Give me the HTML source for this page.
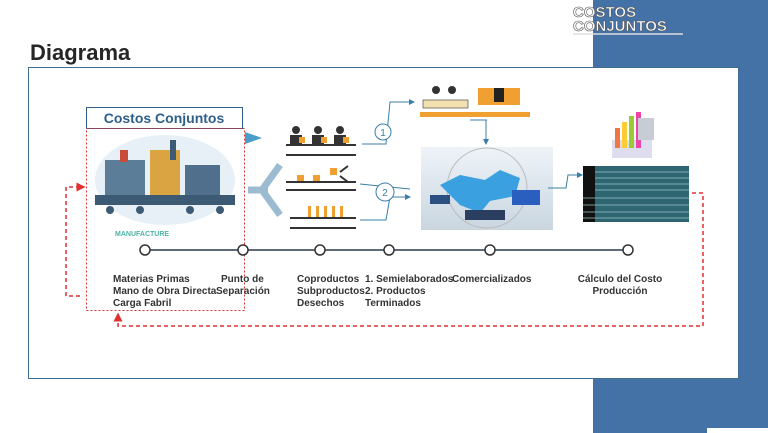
<!DOCTYPE html>
<html><head><style>
body{margin:0;width:768px;height:433px;overflow:hidden;background:#fff;font-family:"Liberation Sans",sans-serif;}
svg{display:block}
</style></head><body>
<svg width="768" height="433" viewBox="0 0 768 433" xmlns="http://www.w3.org/2000/svg">
<defs>
<marker id="ab" markerWidth="6" markerHeight="6" refX="5" refY="3" orient="auto"><path d="M0,0 L6,3 L0,6z" fill="#3a7fa8"/></marker>
<marker id="ar" markerWidth="6" markerHeight="6" refX="5" refY="3" orient="auto"><path d="M0,0 L6,3 L0,6z" fill="#e03030"/></marker>
<linearGradient id="gl" x1="0" y1="0" x2="0" y2="1"><stop offset="0" stop-color="#eef3f8"/><stop offset="1" stop-color="#c9d6e0"/></linearGradient>
</defs>
<rect x="593" y="0" width="175" height="433" fill="#4472a6"/>
<rect x="707" y="428" width="61" height="5" fill="#fff"/>
<text x="573" y="17" font-size="15" font-weight="bold" fill="#fff" stroke="#555" stroke-width="0.6">COSTOS</text>
<text x="573" y="31" font-size="15" font-weight="bold" fill="#fff" stroke="#555" stroke-width="0.6">CONJUNTOS</text>
<line x1="573" y1="34" x2="683" y2="34" stroke="#ddd" stroke-width="1.5"/>
<text x="30" y="60" font-size="22" font-weight="bold" fill="#262626">Diagrama</text>
<rect x="28.5" y="67.5" width="710" height="311" fill="#fff" stroke="#3f6f8f" stroke-width="1"/>

<rect x="86.5" y="107.5" width="156" height="21" fill="#fff" stroke="#2e5f8a"/>
<text x="164" y="123" font-size="14" font-weight="bold" fill="#2e5f8a" text-anchor="middle">Costos Conjuntos</text>
<g>
<ellipse cx="165" cy="180" rx="70" ry="45" fill="#e6f0f6"/>
<rect x="95" y="195" width="140" height="10" fill="#3d5a75"/>
<rect x="105" y="160" width="40" height="35" fill="#5b7d98"/>
<rect x="150" y="150" width="30" height="45" fill="#d9a441"/>
<rect x="185" y="165" width="35" height="30" fill="#4f6f8c"/>
<rect x="170" y="140" width="6" height="20" fill="#3d5a75"/>
<rect x="120" y="150" width="8" height="12" fill="#c94c3a"/>
<circle cx="110" cy="210" r="4" fill="#3d5a75"/><circle cx="140" cy="210" r="4" fill="#3d5a75"/><circle cx="190" cy="210" r="4" fill="#3d5a75"/><circle cx="220" cy="210" r="4" fill="#3d5a75"/>
<text x="115" y="236" font-size="7" fill="#4cb3a8" font-weight="bold">MANUFACTURE</text>
</g>
<rect x="86.5" y="128.5" width="158" height="182" fill="none" stroke="#e03030" stroke-dasharray="2,2"/>
<polygon points="245,132 262,138 245,144" fill="#4a9cc9"/>
<path d="M248,190 L268,190 M262,190 L280,165 M262,190 L280,215" stroke="#9bbcd0" stroke-width="7" fill="none"/>
<g fill="#333">
<circle cx="296" cy="130" r="4"/><circle cx="318" cy="130" r="4"/><circle cx="340" cy="130" r="4"/>
<rect x="290" y="135" width="12" height="9"/><rect x="312" y="135" width="12" height="9"/><rect x="334" y="135" width="12" height="9"/>
</g>
<g fill="#f0a030"><rect x="299" y="137" width="6" height="6"/><rect x="321" y="137" width="6" height="6"/><rect x="343" y="137" width="6" height="6"/>
<rect x="297" y="175" width="7" height="7"/><rect x="313" y="175" width="7" height="7"/><rect x="330" y="168" width="7" height="7"/>
<rect x="308" y="206" width="3" height="11"/><rect x="316" y="206" width="3" height="11"/><rect x="324" y="206" width="3" height="11"/><rect x="332" y="206" width="3" height="11"/><rect x="340" y="206" width="3" height="11"/></g>
<g stroke="#333" stroke-width="2"><line x1="286" y1="145" x2="356" y2="145"/><line x1="286" y1="155" x2="356" y2="155"/>
<line x1="286" y1="182" x2="356" y2="182"/><line x1="286" y1="190" x2="356" y2="190"/>
<line x1="290" y1="218" x2="356" y2="218"/><line x1="290" y1="228" x2="356" y2="228"/></g>
<path d="M340,172 l8,-6 M340,176 l8,6" stroke="#333" stroke-width="2"/>
<path d="M362,144 L386,144 L390,102 L414,102" stroke="#3a7fa8" fill="none" marker-end="url(#ab)"/>
<circle cx="383" cy="132" r="8" fill="#fff" stroke="#3a7fa8"/><text x="383" y="136" font-size="10" fill="#3a7fa8" text-anchor="middle">1</text>
<path d="M360,184 L410,189 M360,220 L386,220 L390,197 L410,197" stroke="#3a7fa8" fill="none" marker-end="url(#ab)"/>
<circle cx="385" cy="192" r="9" fill="#fff" stroke="#3a7fa8"/><text x="385" y="196" font-size="10" fill="#3a7fa8" text-anchor="middle">2</text>
<rect x="420" y="112" width="110" height="5" fill="#f0a030"/>
<rect x="423" y="100" width="45" height="8" fill="#f3e0b0" stroke="#333" stroke-width="0.6"/>
<circle cx="436" cy="90" r="4" fill="#333"/><circle cx="452" cy="90" r="4" fill="#333"/>
<rect x="478" y="88" width="42" height="17" fill="#f0a030"/><rect x="494" y="88" width="10" height="14" fill="#222"/>
<line x1="470" y1="120" x2="487" y2="120" stroke="#3a7fa8"/><path d="M486,120 L486,144" stroke="#3a7fa8" marker-end="url(#ab)"/>
<rect x="421" y="147" width="132" height="83" fill="url(#gl)"/>
<circle cx="487" cy="188" r="40" fill="none" stroke="#bbb"/>
<path d="M440,185 l20,-10 l25,5 l15,-10 l20,8 l-5,18 l-25,5 l-10,12 l-20,-8z" fill="#3aa0e0"/>
<rect x="512" y="190" width="28" height="15" fill="#2a5fc0"/>
<rect x="430" y="195" width="20" height="9" fill="#2a4f80"/>
<rect x="465" y="210" width="40" height="10" fill="#2a3f60"/>
<path d="M548,188 L566,188 L568,175 L582,175" stroke="#3a7fa8" fill="none" marker-end="url(#ab)"/>
<rect x="612" y="140" width="40" height="18" fill="#dde"/>
<rect x="615" y="128" width="5" height="20" fill="#e74"/><rect x="622" y="122" width="5" height="26" fill="#fc3"/><rect x="629" y="116" width="5" height="32" fill="#9c3"/><rect x="636" y="112" width="5" height="36" fill="#e4a"/>
<rect x="638" y="118" width="16" height="22" fill="#c8ccd4"/>
<rect x="583" y="166" width="106" height="56" fill="#2d6670"/>
<rect x="583" y="166" width="12" height="56" fill="#111"/>
<g stroke="#9cc4cc" stroke-width="0.7"><line x1="595" y1="172" x2="689" y2="172"/><line x1="595" y1="178" x2="689" y2="178"/><line x1="595" y1="184" x2="689" y2="184"/><line x1="595" y1="190" x2="689" y2="190"/><line x1="583" y1="198" x2="689" y2="198"/><line x1="583" y1="205" x2="689" y2="205"/><line x1="583" y1="212" x2="689" y2="212"/><line x1="583" y1="218" x2="689" y2="218"/></g>
<line x1="145" y1="250" x2="628" y2="250" stroke="#5f6b78" stroke-width="2"/>
<g fill="#fff" stroke="#333" stroke-width="1.5">
<circle cx="145" cy="250" r="5"/><circle cx="243" cy="250" r="5"/><circle cx="320" cy="250" r="5"/><circle cx="389" cy="250" r="5"/><circle cx="490" cy="250" r="5"/><circle cx="628" cy="250" r="5"/></g>
<g font-size="10" font-weight="bold" fill="#333">
<text x="113" y="282">Materias Primas</text><text x="113" y="294">Mano de Obra Directa</text><text x="113" y="306">Carga Fabril</text>
<text x="221" y="282">Punto de</text><text x="216" y="294">Separación</text>
<text x="297" y="282">Coproductos</text><text x="297" y="294">Subproductos</text><text x="297" y="306">Desechos</text>
<text x="365" y="282">1. Semielaborados</text><text x="365" y="294">2. Productos</text><text x="365" y="306">Terminados</text>
<text x="452" y="282">Comercializados</text>
<text x="620" y="282" text-anchor="middle">Cálculo del Costo</text><text x="620" y="294" text-anchor="middle">Producción</text>
</g>
<path d="M80,296 L66,296 L66,187 L84,187" stroke="#e03030" stroke-width="1.5" fill="none" stroke-dasharray="4,3" marker-end="url(#ar)"/>
<path d="M692,193 L703,193 L703,326 L118,326 L118,314" stroke="#e03030" stroke-width="1.5" fill="none" stroke-dasharray="4,3" marker-end="url(#ar)"/>
</svg>
</body></html>
